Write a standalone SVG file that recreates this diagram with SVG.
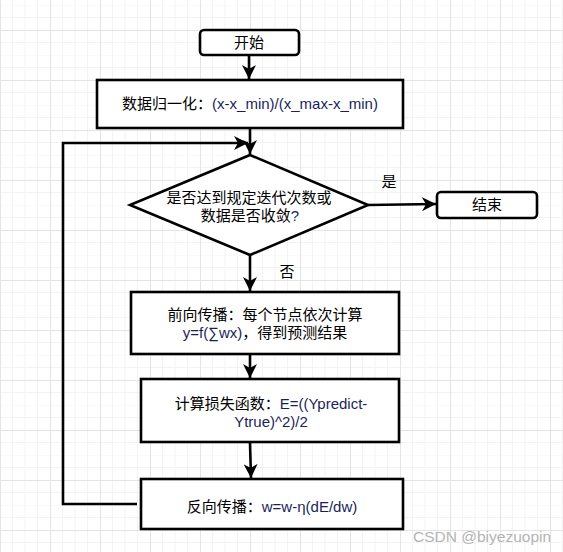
<svg xmlns="http://www.w3.org/2000/svg" width="563" height="552" viewBox="0 0 563 552">
<defs>
<pattern id="grid" patternUnits="userSpaceOnUse" x="0" y="5" width="50" height="50">
<path d="M12.5 0V50M25 0V50M37.5 0V50M0 0H50M0 12.5H50M0 37.5H50" stroke="#f3f3f3" stroke-width="1" fill="none"/>
<path d="M0.5 0V50M0 25.5H50" stroke="#e4e4e4" stroke-width="1" fill="none"/>
</pattern>
<marker id="arr" markerUnits="userSpaceOnUse" markerWidth="16" markerHeight="14" viewBox="0 0 16 14" refX="14" refY="7" orient="auto">
<path d="M0 0L14 7L0 14L4 7Z" fill="#000"/>
</marker>
</defs>
<style>
.box{fill:#fff;stroke:#000;stroke-width:2.6}
.ln{fill:none;stroke:#000;stroke-width:2.6}
.t{font-family:"Liberation Sans","Noto Sans CJK SC",sans-serif;font-size:15px;fill:#000;text-anchor:middle}
.f{fill:#1a1f5c}
.wm{font-family:"Liberation Sans",Arial,sans-serif;font-size:15.5px;fill:#b4b4b4}
</style>
<rect width="563" height="552" fill="#fff"/>
<rect width="563" height="552" fill="url(#grid)"/>

<g id="connectors">
<path class="ln" d="M249 56V79" marker-end="url(#arr)"/>
<path class="ln" d="M250 129V154" marker-end="url(#arr)"/>
<path class="ln" d="M137 504H63V143H248" marker-end="url(#arr)"/>
<path class="ln" d="M368 205L436 204" marker-end="url(#arr)"/>
<path class="ln" d="M250 256V291" marker-end="url(#arr)"/>
<path class="ln" d="M250 355V378" marker-end="url(#arr)"/>
<path class="ln" d="M250 443L251 478" marker-end="url(#arr)"/>
<text class="t" x="389" y="187">是</text>
<text class="t" x="287" y="277">否</text>
</g>

<g id="start">
<rect class="box" x="200" y="30" width="99" height="25" rx="4"/>
<text class="t" x="249" y="48">开始</text>
</g>

<g id="normalize">
<rect class="box" x="97" y="80" width="306" height="48"/>
<text class="t" x="250" y="109">数据归一化：<tspan class="f">(x-x_min)/(x_max-x_min)</tspan></text>
</g>

<g id="decision">
<polygon class="box" points="250,155 368,205 250,255 130,205"/>
<text class="t" x="249" y="203">是否达到规定迭代次数或</text>
<text class="t" x="250" y="221">数据是否收敛<tspan class="f">?</tspan></text>
</g>

<g id="end">
<rect class="box" x="437" y="192" width="100" height="26" rx="4"/>
<text class="t" x="487" y="210">结束</text>
</g>

<g id="forward">
<rect class="box" x="131" y="292" width="268" height="62"/>
<text class="t" x="265" y="320">前向传播：每个节点依次计算</text>
<text class="t" x="265" y="338"><tspan class="f">y=f(∑wx)</tspan>，得到预测结果</text>
</g>

<g id="loss">
<rect class="box" x="141" y="379" width="258" height="63"/>
<text class="t" x="271" y="409">计算损失函数：<tspan class="f">E=((Ypredict-</tspan></text>
<text class="t f" x="271" y="427">Ytrue)^2)/2</text>
</g>

<g id="backward">
<rect class="box" x="141" y="479" width="262" height="50"/>
<text class="t" x="272" y="512">反向传播：<tspan class="f">w=w-η(dE/dw)</tspan></text>
</g>

<text class="wm" x="413" y="542">CSDN @biyezuopin</text>
</svg>
